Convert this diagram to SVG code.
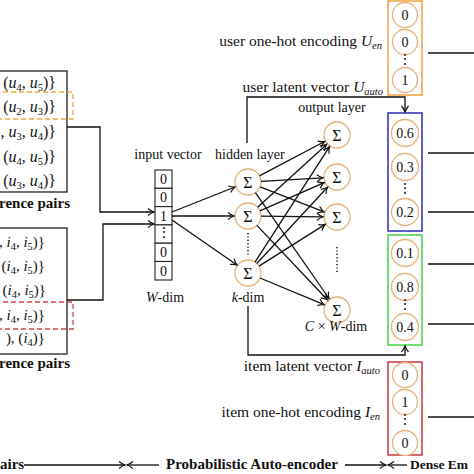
<svg xmlns="http://www.w3.org/2000/svg" width="474" height="474" viewBox="0 0 474 474">
<style>
text{font-family:"Liberation Serif","DejaVu Serif",serif;font-size:14px;fill:#111}
.m{font-size:16px}
.m2{font-size:15px}
.i{font-style:italic}
.s{font-size:10.5px}
.b{font-weight:bold;font-size:15px}
.c{text-anchor:middle}
.e{text-anchor:end}
.L{font-size:15.5px}
.ln{stroke:#111;stroke-width:1.3;fill:none}
.ar{stroke:#111;stroke-width:1.3;fill:none;marker-end:url(#ah)}
.nd{fill:#fff;stroke:#e6b27c;stroke-width:1.3}
.cell{fill:#fff;stroke:#222;stroke-width:1.1}
.dot{stroke:#222;stroke-width:1.6;stroke-dasharray:1.2 2.2;fill:none}
.n{font-size:14px;text-anchor:middle}
.sg{font-size:16px;text-anchor:middle}
</style>
<defs>
<marker id="ah" markerUnits="userSpaceOnUse" markerWidth="10" markerHeight="10" refX="7" refY="4" orient="auto">
<path d="M1,0.5 Q4,3 7,4 Q4,5 1,7.5" fill="none" stroke="#111" stroke-width="1.2"/>
</marker>
</defs>

<g id="user-pairs">
<rect x="-5" y="71" width="72" height="121" fill="#fff" stroke="#222" stroke-width="1.3"/>
<rect x="-5" y="92" width="78" height="27" fill="none" stroke="#eeaa44" stroke-width="1.3" stroke-dasharray="5 3"/>
<text class="m e" x="56" y="88">(<tspan class="i">u</tspan><tspan class="s" dy="3">4</tspan><tspan dy="-3">, </tspan><tspan class="i">u</tspan><tspan class="s" dy="3">5</tspan><tspan dy="-3">)}</tspan></text>
<text class="m e" x="56" y="112">(<tspan class="i">u</tspan><tspan class="s" dy="3">2</tspan><tspan dy="-3">, </tspan><tspan class="i">u</tspan><tspan class="s" dy="3">3</tspan><tspan dy="-3">)}</tspan></text>
<text class="m e" x="56" y="137">, <tspan class="i">u</tspan><tspan class="s" dy="3">3</tspan><tspan dy="-3">, </tspan><tspan class="i">u</tspan><tspan class="s" dy="3">4</tspan><tspan dy="-3">)}</tspan></text>
<text class="m e" x="56" y="162">(<tspan class="i">u</tspan><tspan class="s" dy="3">4</tspan><tspan dy="-3">, </tspan><tspan class="i">u</tspan><tspan class="s" dy="3">5</tspan><tspan dy="-3">)}</tspan></text>
<text class="m e" x="56" y="186">(<tspan class="i">u</tspan><tspan class="s" dy="3">3</tspan><tspan dy="-3">, </tspan><tspan class="i">u</tspan><tspan class="s" dy="3">4</tspan><tspan dy="-3">)}</tspan></text>
<text class="b e" x="70" y="208">rence pairs</text>
</g>

<g id="item-pairs">
<rect x="-5" y="228" width="72" height="126" fill="#fff" stroke="#222" stroke-width="1.3"/>
<rect x="-5" y="302" width="78" height="27" fill="none" stroke="#d04848" stroke-width="1.3" stroke-dasharray="5 3"/>
<text class="m2 e" x="45" y="247">, <tspan class="i">i</tspan><tspan class="s" dy="3">4</tspan><tspan dy="-3">, </tspan><tspan class="i">i</tspan><tspan class="s" dy="3">5</tspan><tspan dy="-3">)}</tspan></text>
<text class="m2 e" x="45" y="271">(<tspan class="i">i</tspan><tspan class="s" dy="3">4</tspan><tspan dy="-3">, </tspan><tspan class="i">i</tspan><tspan class="s" dy="3">5</tspan><tspan dy="-3">)}</tspan></text>
<text class="m2 e" x="46" y="295">(<tspan class="i">i</tspan><tspan class="s" dy="3">4</tspan><tspan dy="-3">, </tspan><tspan class="i">i</tspan><tspan class="s" dy="3">5</tspan><tspan dy="-3">)}</tspan></text>
<text class="m2 e" x="45" y="320">, <tspan class="i">i</tspan><tspan class="s" dy="3">4</tspan><tspan dy="-3">, </tspan><tspan class="i">i</tspan><tspan class="s" dy="3">5</tspan><tspan dy="-3">)}</tspan></text>
<text class="m2 e" x="45" y="343">), (<tspan class="i">i</tspan><tspan class="s" dy="3">4</tspan><tspan dy="-3">)}</tspan></text>
<text class="b e" x="70" y="368">rence pairs</text>
</g>

<g id="input-vector">
<text class="c" x="168" y="159">input vector</text>
<rect class="cell" x="155" y="170" width="17" height="18.3"/>
<rect class="cell" x="155" y="188.3" width="17" height="18.3"/>
<rect class="cell" x="155" y="206.6" width="17" height="18.3"/>
<rect class="cell" x="155" y="224.9" width="17" height="18.3"/>
<rect class="cell" x="155" y="243.2" width="17" height="18.3"/>
<rect class="cell" x="155" y="261.5" width="17" height="18.5"/>
<text class="n" x="163.5" y="184">0</text>
<text class="n" x="163.5" y="202">0</text>
<text class="n" x="163.5" y="220.5">1</text>
<text class="n" x="163.5" y="237">⋮</text>
<text class="n" x="163.5" y="257">0</text>
<text class="n" x="163.5" y="275.5">0</text>
<text class="c" x="165" y="302"><tspan class="i">W</tspan>-dim</text>
</g>

<g id="hidden-layer">
<text x="215" y="159">hidden layer</text>
<circle class="nd" cx="248" cy="182" r="13"/>
<circle class="nd" cx="248" cy="216" r="13"/>
<circle class="nd" cx="248" cy="273" r="13"/>
<text class="sg" x="248" y="187.5">Σ</text>
<text class="sg" x="248" y="221.5">Σ</text>
<text class="sg" x="248" y="278.5">Σ</text>
<line class="dot" x1="248" y1="233" x2="248" y2="256"/>
<text class="c" x="248" y="302"><tspan class="i">k</tspan>-dim</text>
</g>

<g id="output-layer">
<text class="c" x="332" y="112">output layer</text>
<circle class="nd" cx="337" cy="135" r="13"/>
<circle class="nd" cx="337" cy="177" r="13"/>
<circle class="nd" cx="337" cy="217" r="13"/>
<circle class="nd" cx="337" cy="310" r="13"/>
<text class="sg" x="337" y="140.5">Σ</text>
<text class="sg" x="337" y="182.5">Σ</text>
<text class="sg" x="337" y="222.5">Σ</text>
<text class="sg" x="337" y="315.5">Σ</text>
<line class="dot" x1="337" y1="247" x2="337" y2="274"/>
<text class="c" x="336" y="331"><tspan class="i">C</tspan> × <tspan class="i">W</tspan>-dim</text>
</g>

<g id="user-onehot">
<rect x="388" y="1" width="34" height="94" fill="#fff" stroke="#f0a040" stroke-width="1.5"/>
<circle class="nd" cx="405" cy="15" r="12.5"/>
<circle class="nd" cx="405" cy="42" r="12.5"/>
<circle class="nd" cx="405" cy="80" r="12.5"/>
<text class="n" x="405" y="20">0</text>
<text class="n" x="405" y="47">0</text>
<text class="n" x="405" y="64">⋮</text>
<text class="n" x="405" y="85">1</text>
<text class="e L" x="382" y="46">user one-hot encoding <tspan class="i">U</tspan><tspan class="i s" dy="3">en</tspan></text>
</g>

<g id="user-latent">
<rect x="388" y="113" width="34" height="118" fill="#fff" stroke="#2a2ac0" stroke-width="1.5"/>
<circle class="nd" cx="405" cy="133" r="13.5"/>
<circle class="nd" cx="405" cy="167" r="13.5"/>
<circle class="nd" cx="405" cy="212" r="13.5"/>
<text class="n" x="405" y="138">0.6</text>
<text class="n" x="405" y="172">0.3</text>
<text class="n" x="405" y="193">⋮</text>
<text class="n" x="405" y="217">0.2</text>
<text class="e L" x="383" y="92">user latent vector <tspan class="i">U</tspan><tspan class="i s" dy="3">auto</tspan></text>
</g>

<g id="item-latent">
<rect x="388" y="235" width="34" height="110" fill="#fff" stroke="#44d044" stroke-width="1.5"/>
<circle class="nd" cx="405" cy="253" r="13.5"/>
<circle class="nd" cx="405" cy="287" r="13.5"/>
<circle class="nd" cx="405" cy="327" r="13.5"/>
<text class="n" x="405" y="258">0.1</text>
<text class="n" x="405" y="292">0.8</text>
<text class="n" x="405" y="309">⋮</text>
<text class="n" x="405" y="332">0.4</text>
<text class="e L" x="380" y="371">item latent vector <tspan class="i">I</tspan><tspan class="i s" dy="3">auto</tspan></text>
</g>

<g id="item-onehot">
<rect x="388" y="362" width="34" height="93" fill="#fff" stroke="#c83838" stroke-width="1.5"/>
<circle class="nd" cx="405" cy="375" r="12.5"/>
<circle class="nd" cx="405" cy="402" r="12.5"/>
<circle class="nd" cx="405" cy="443" r="12.5"/>
<text class="n" x="405" y="380">0</text>
<text class="n" x="405" y="407">1</text>
<text class="n" x="405" y="424">⋮</text>
<text class="n" x="405" y="448">0</text>
<text class="e L" x="380" y="417">item one-hot encoding <tspan class="i">I</tspan><tspan class="i s" dy="3">en</tspan></text>
</g>

<g id="connectors">
<polyline class="ar" points="67,127 100,127 100,212 154,212"/>
<polyline class="ar" points="67,300 103,300 103,224 154,224"/>
<line class="ar" x1="172" y1="212" x2="235" y2="187"/>
<line class="ar" x1="172" y1="216" x2="234" y2="216"/>
<line class="ar" x1="172" y1="220" x2="237" y2="265"/>
<line class="ar" x1="259.5" y1="175.9" x2="324.6" y2="141.5"/>
<line class="ar" x1="261" y1="181.3" x2="323" y2="177.8"/>
<line class="ar" x1="260.1" y1="186.8" x2="324" y2="211.9"/>
<line class="ar" x1="255.4" y1="192.7" x2="329" y2="298.5"/>
<line class="ar" x1="257.6" y1="207.2" x2="326.6" y2="144.4"/>
<line class="ar" x1="259.9" y1="210.8" x2="324.2" y2="182.6"/>
<line class="ar" x1="261" y1="216.1" x2="323" y2="216.8"/>
<line class="ar" x1="256.9" y1="225.4" x2="327.4" y2="299.8"/>
<line class="ar" x1="255" y1="262.1" x2="329.4" y2="146.8"/>
<line class="ar" x1="256.8" y1="263.5" x2="327.5" y2="187.3"/>
<line class="ar" x1="259" y1="266.1" x2="325.2" y2="224.4"/>
<line class="ar" x1="260" y1="278" x2="324.1" y2="304.6"/>
<polyline class="ar" points="247,143 247,97 405,97 405,112"/>
<polyline class="ar" points="248,306 248,355 405,355 405,346"/>
<line class="ln" x1="428" y1="53" x2="474" y2="53"/>
<line class="ln" x1="428" y1="153" x2="474" y2="153"/>
<line class="ln" x1="428" y1="212" x2="474" y2="212"/>
<line class="ln" x1="428" y1="264" x2="474" y2="264"/>
<line class="ln" x1="428" y1="324" x2="474" y2="324"/>
<line class="ln" x1="428" y1="417" x2="474" y2="417"/>
</g>

<g id="stage-axis">
<text x="0" y="469" class="b">airs</text>
<line class="ar" x1="24" y1="465" x2="125" y2="465"/>
<line class="ar" x1="159" y1="465" x2="127" y2="465"/>
<text x="166" y="469" class="b">Probabilistic Auto-encoder</text>
<line class="ar" x1="345" y1="465" x2="386" y2="465"/>
<line class="ar" x1="407" y1="465" x2="388" y2="465"/>
<text x="410" y="469" class="b" style="font-size:13.5px">Dense Em</text>
</g>
</svg>
